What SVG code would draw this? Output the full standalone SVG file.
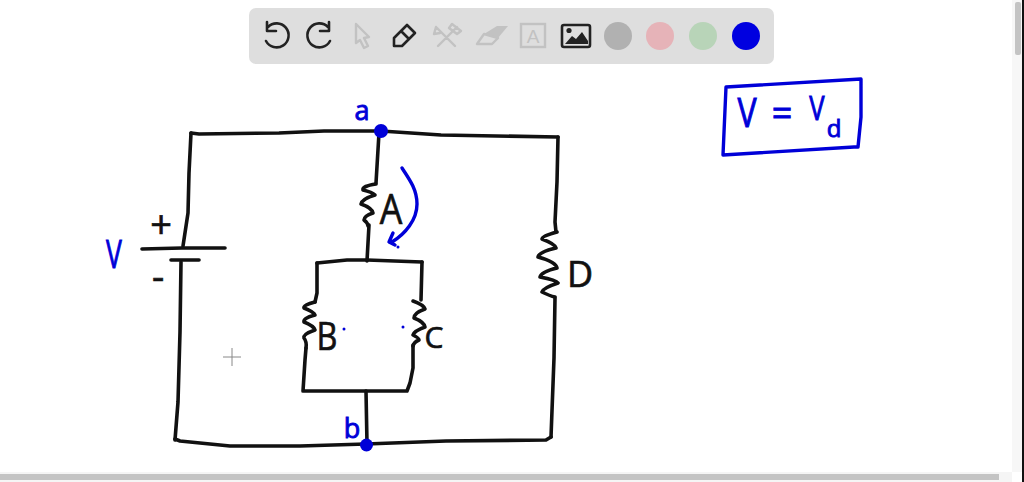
<svg xmlns="http://www.w3.org/2000/svg" width="1024" height="482" viewBox="0 0 1024 482">
<style>
.w{fill:none;stroke:#111;stroke-width:3.6;stroke-linecap:round;stroke-linejoin:round}
.bl{fill:none;stroke:#0000d8;stroke-width:3.4;stroke-linecap:round;stroke-linejoin:round}
.ic{fill:none;stroke:#222;stroke-width:2.6;stroke-linecap:round;stroke-linejoin:round}
.dis{fill:none;stroke:#c2c2c2;stroke-width:2.4;stroke-linejoin:round;stroke-linecap:round}
.k{font-family:"Open Sans","Liberation Sans",sans-serif;fill:#111;stroke:#111;stroke-width:.7}
.b{font-family:"Open Sans","Liberation Sans",sans-serif;fill:#0000d8;stroke:#0000d8;stroke-width:.9}
</style>
<rect width="1024" height="482" fill="#fff"/>
<g id="scrollbars">
<rect x="0" y="472" width="1012" height="10" fill="#f5f5f5"/>
<rect x="0" y="474" width="999" height="6" fill="#c4c4c4"/>
<rect x="1012" y="0" width="10" height="472" fill="#f7f7f7"/>
<rect x="1015" y="2" width="6" height="53" rx="2" fill="#c4c4c4"/>
<rect x="1022" y="0" width="2" height="482" fill="#111"/>
</g>
<g id="toolbar">
<rect x="249" y="8" width="525" height="56" rx="7" fill="#dedede"/>
<path class="ic" d="M268 27A12 12 0 1 1 266 41M267 22v9h9"/>
<path class="ic" d="M328 27A12 12 0 1 0 330 41M329 22v9h-9"/>
<path class="dis" d="M356 24l13 13-5 1 4 8-4 2-4-8-4 3z"/>
<path class="ic" d="M394 46v-8l13-13 8 8-13 13zM401 31l8 8"/>
<path class="dis" d="M436 27l19 19M457 27l-19 19M436 27l-2 7 6-1M452 24l9 7-4 3-8-6z"/>
<path d="M484 34l13-8h11l-10 12z" fill="#c2c2c2"/>
<path class="dis" d="M484 34l-7 10h15l6-6z" stroke-width="1.800"/>
<rect x="521" y="24" width="24" height="23" fill="none" stroke="#c2c2c2" stroke-width="2.400"/>
<text x="533" y="43" text-anchor="middle" font-size="19" font-family="Liberation Sans, sans-serif" fill="#c2c2c2">A</text>
<rect x="562" y="25" width="28" height="22" rx="2" fill="none" stroke="#222" stroke-width="2.600"/>
<circle cx="569" cy="30.500" r="2.600" fill="#222"/>
<path d="M565 44l7-8 4 3 6-7 6 9v3z" fill="#222"/>
<circle cx="618" cy="36" r="14" fill="#b1b1b1"/>
<circle cx="660" cy="36" r="14" fill="#e6b3b8"/>
<circle cx="703" cy="36" r="14" fill="#b8d4b8"/>
<circle cx="746" cy="36" r="14" fill="#0000e0"/>
</g>
<g id="connectors">
<path class="w" d="M191 133l8 1 80-1 45-2 57 0 60 4 117 2"/>
<path class="w" d="M191 133l-2 40-1 40-5 33"/>
<path class="w" d="M142 249l40-1 43 0"/>
<path class="w" d="M171 260l28 0"/>
<path class="w" d="M181 262l-1 70-2 70-3 38"/>
<path class="w" d="M175 439l5 2 50 5 70 0 66-2 80-3 100-1 5-3"/>
<path class="w" d="M558 137l-1 45-2 40 1 10"/>
<path class="w" d="M555 298l-1 60-3 79"/>
<path class="w" d="M379 133l-3 50"/>
<path class="w" d="M369 225l-2 36"/>
<path class="w" d="M317 263l30-3 20 0 55 2"/>
<path class="w" d="M317 263l0 30-2 9"/>
<path class="w" d="M306 348l-1 12-2 31 104 0 3-8 3-15 0-23"/>
<path class="w" d="M422 262l-1 38"/>
<path class="w" d="M366 391l1 53"/>
</g>
<g id="battery">
<text class="k" x="161" y="238" font-size="38" text-anchor="middle">+</text>
<text class="k" x="158" y="290" font-size="38" text-anchor="middle">-</text>
<text class="b" transform="translate(114,268) scale(.68,1)" font-size="39" text-anchor="middle">V</text>
</g>
<g id="resistor-A">
<path class="w" d="M376 184Q362 186 363 190Q372 192 375 195Q362 199 361 204Q372 208 373 213Q364 216 364 220Q368 223 368 226"/>
<text class="k" transform="translate(391,224) scale(.85,1)" font-size="42" text-anchor="middle">A</text>
</g>
<g id="resistor-B">
<path class="w" d="M315 302Q303 305 304 308Q314 312 315 315Q303 318 304 322Q314 326 315 330Q303 334 304 338Q307 342 306 348"/>
<text class="k" transform="translate(327,350) scale(.85,1)" font-size="38" text-anchor="middle">B</text>
</g>
<g id="resistor-C">
<path class="w" d="M413 301Q424 305 425 309Q414 313 414 318Q424 322 425 327Q414 331 413 335Q419 338 419 340Q414 342 413 346"/>
<text class="k" x="434" y="348" font-size="30" text-anchor="middle">C</text>
</g>
<g id="resistor-D">
<path class="w" d="M557 232Q542 236 542 239Q555 244 556 248Q539 252 538 257Q556 262 557 268Q541 272 540 277Q556 280 558 283Q543 288 542 292Q550 296 555 297"/>
<text class="k" x="580" y="287" font-size="36" text-anchor="middle">D</text>
</g>
<g id="node-a">
<circle cx="381" cy="131" r="7" fill="#0000d8"/>
<text class="b" x="362" y="120" font-size="27" text-anchor="middle">a</text>
</g>
<g id="node-b">
<circle cx="366.500" cy="445" r="6.500" fill="#0000d8"/>
<text class="b" x="352" y="438" font-size="27" text-anchor="middle">b</text>
</g>
<g id="current-arrow">
<path class="bl" d="M402 168c8 12 15 22 15 36 0 16-12 30-25 38M393 233l-4 9 6 3"/>
<circle cx="398" cy="247" r="1.500" fill="#0000d8"/>
</g>
<g id="marks">
<circle cx="344" cy="329" r="1.500" fill="#0000d8"/>
<circle cx="403" cy="327" r="1.500" fill="#0000d8"/>
<path d="M232 348v18M223 357h18" stroke="#888" stroke-width="1" fill="none"/>
</g>
<g id="equation">
<path class="bl" d="M726 87l135-8 0 38-3 30-4 0-131 8z"/>
<text class="b" transform="translate(747,127) scale(.8,1)" font-size="40" text-anchor="middle">V</text>
<text class="b" x="782" y="126" font-size="36" text-anchor="middle">=</text>
<text class="b" transform="translate(817,120) scale(.8,1)" font-size="32" text-anchor="middle">V</text>
<text class="b" x="834" y="137" font-size="24" text-anchor="middle">d</text>
</g>
</svg>
